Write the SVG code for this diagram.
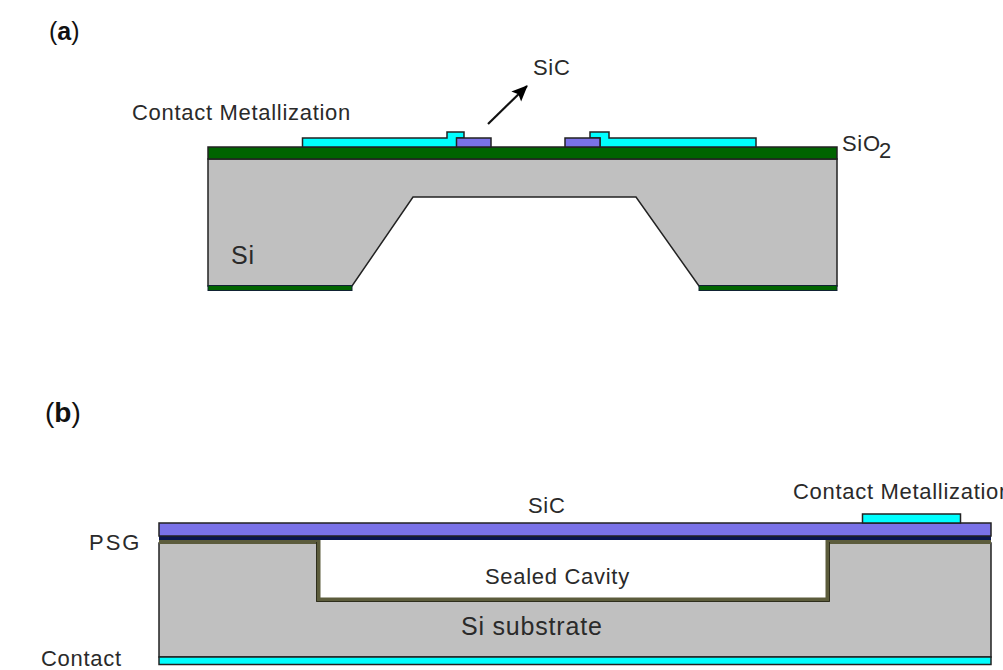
<svg xmlns="http://www.w3.org/2000/svg" width="1003" height="670" viewBox="0 0 1003 670">
<defs>
<marker id="arr" markerUnits="userSpaceOnUse" markerWidth="18" markerHeight="18" refX="15" refY="8" orient="auto"><path d="M0 1L16 8L0 15L3 8Z" fill="#000"/></marker>
</defs>
<style>
text{font-family:"Liberation Sans",Arial,sans-serif;font-size:22px;fill:#2a2a2a;letter-spacing:.7px}
.h{font-size:25px;fill:#111;letter-spacing:0}
.l{font-size:25px;letter-spacing:.8px}
.o{stroke:#222;stroke-width:1.5}
.si{fill:#c0c0c0}
.ox{fill:#006400}
.me{fill:#00ffff}
.sc{fill:#7a72e8}
</style>
<rect width="1003" height="670" fill="#fff"/>
<g id="panel-a">
<g id="si-a"><path class="si o" d="M208 159H837V286H699L636 197H413L352 286H208Z"/></g>
<g id="oxide-a"><rect class="ox o" x="208" y="147" width="629" height="12"/><rect class="ox" stroke="#123" stroke-width="1" x="208" y="285.500" width="144" height="5"/><rect class="ox" stroke="#123" stroke-width="1" x="699" y="285.500" width="138" height="5"/></g>
<g id="metal-a"><path class="me o" d="M302.500 147V138H447V132H464V138H457V147Z"/><path class="me o" d="M600 147V138H590V132H609V138H756V147Z"/></g>
<g id="sic-a"><rect class="sc o" x="456.500" y="138" width="34.500" height="9"/><rect class="sc o" x="565" y="138" width="35" height="9"/></g>
</g>
<g id="panel-b">
<g id="si-b"><path class="si o" d="M159 543H317V601H829V543H991V657H159Z"/></g>
<g id="cavity-b"><path d="M319 541H826V598H319Z" fill="#fff"/><path d="M159 542H318.500V599.500H827.500V542H991" fill="none" stroke="#5c5c3c" stroke-width="4"/><path d="M316.500 542V601.500H829.500V542" fill="none" stroke="#2e2e1c" stroke-width="1"/></g>
<g id="sic-b"><rect x="159" y="536" width="832" height="4" fill="#0a1650"/><rect class="sc o" x="159" y="523" width="832" height="13"/></g>
<g id="metal-b"><rect class="me o" x="862.500" y="514" width="98" height="9"/><rect class="me o" x="159" y="657" width="832" height="7.500"/></g>
</g>
<g id="connectors"><line x1="488" y1="124" x2="527" y2="86" stroke="#111" stroke-width="2.200" marker-end="url(#arr)"/></g>
<g id="labels">
<text class="h" x="49" y="40">(<tspan font-weight="bold">a</tspan>)</text>
<text class="h" x="45" y="422" style="font-size:28px">(<tspan font-weight="bold">b</tspan>)</text>
<text x="132" y="120">Contact Metallization</text>
<text x="533" y="75">SiC</text>
<text x="842" y="151">SiO</text>
<text x="879" y="158">2</text>
<text class="l" x="231" y="264">Si</text>
<text x="528" y="513">SiC</text>
<text x="793" y="499">Contact Metallization</text>
<text x="89" y="550" style="letter-spacing:2px">PSG</text>
<text x="485" y="584">Sealed Cavity</text>
<text class="l" x="461" y="635">Si substrate</text>
<text x="41" y="666">Contact</text>
</g>
</svg>
